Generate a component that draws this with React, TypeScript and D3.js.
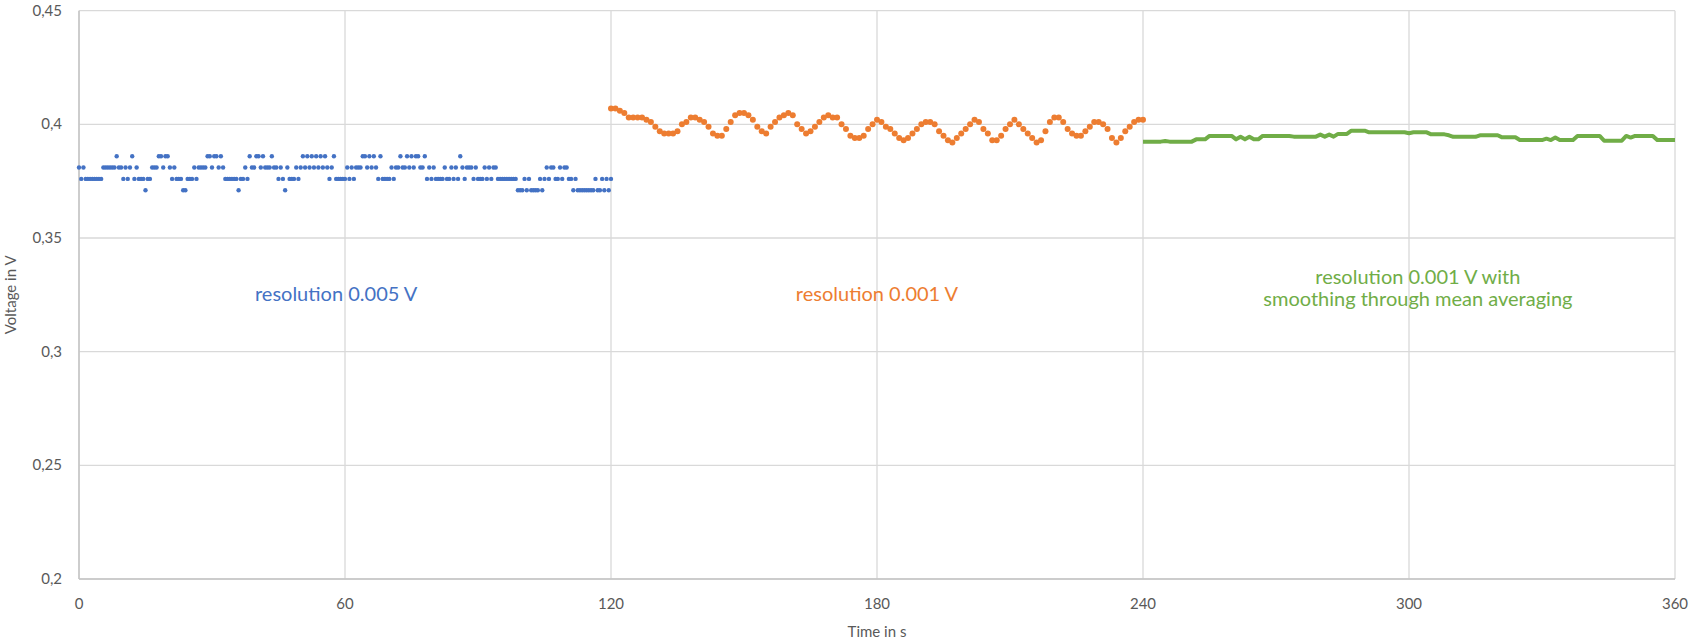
import React from 'react';
import * as d3 from 'd3';

// Blue series: 0.005 V resolution, sampled every 0.5 s from 0 s to 120 s.
// Each digit is an index into blueLevels (read off the picture).
const blueLevels = [0.371, 0.376, 0.381, 0.386];
const blueCodes = (
  '2121111111' + '1222222322' + '1212312111' + '0112223323' + '3212111001' +
  '1121222233' + '2332321111' + '1101121322' + '3323222322' + '1210211121' +
  '2323232323' + '2321231111' + '1212122233' + '2323213111' + '1212232232' +
  '3233223121' + '2111121121' + '2132122212' + '1112121221' + '1111111100' +
  '0101000010' + '1212211212' + '2110100000' + '0001001010' + '1'
).split('').map(Number);
const blueStart = 0;
const blueStep = 0.5;

// Orange series: 0.001 V resolution, one value per second from 120 s to 240 s
const orangeStart = 120;
const orangeValues = [
  0.407, 0.407, 0.406, 0.405, 0.403, 0.403, 0.403, 0.403, 0.402, 0.401,
  0.399, 0.397, 0.396, 0.396, 0.396, 0.397, 0.400, 0.401, 0.403, 0.403,
  0.402, 0.401, 0.399, 0.396, 0.395, 0.395, 0.398, 0.401, 0.404, 0.405,
  0.405, 0.404, 0.402, 0.399, 0.397, 0.396, 0.399, 0.401, 0.403, 0.404,
  0.405, 0.404, 0.400, 0.398, 0.396, 0.397, 0.399, 0.401, 0.403, 0.404,
  0.403, 0.403, 0.400, 0.398, 0.395, 0.394, 0.394, 0.395, 0.398, 0.400,
  0.402, 0.401, 0.399, 0.398, 0.396, 0.394, 0.393, 0.394, 0.396, 0.398,
  0.400, 0.401, 0.401, 0.400, 0.397, 0.395, 0.393, 0.392, 0.394, 0.396,
  0.398, 0.400, 0.402, 0.401, 0.398, 0.396, 0.393, 0.393, 0.395, 0.398,
  0.400, 0.402, 0.400, 0.398, 0.396, 0.394, 0.392, 0.393, 0.397, 0.401,
  0.403, 0.403, 0.401, 0.398, 0.396, 0.395, 0.395, 0.397, 0.399, 0.401,
  0.401, 0.400, 0.398, 0.394, 0.392, 0.394, 0.397, 0.399, 0.401, 0.402,
  0.402,
];

// Green series: smoothed by mean averaging, one value per second from 240 s to 360 s
const greenStart = 240;
const greenValues = [
  0.3924, 0.3924, 0.3924, 0.3924, 0.3924, 0.3927, 0.3924, 0.3924, 0.3924, 0.3924,
  0.3924, 0.3924, 0.3934, 0.3934, 0.3934, 0.3949, 0.3949, 0.3949, 0.3949, 0.3949,
  0.3949, 0.3934, 0.3945, 0.3934, 0.3945, 0.3934, 0.3934, 0.3949, 0.3949, 0.3949,
  0.3949, 0.3949, 0.3949, 0.3949, 0.3946, 0.3946, 0.3946, 0.3946, 0.3946, 0.3946,
  0.3955, 0.3946, 0.3955, 0.3946, 0.3958, 0.3958, 0.3958, 0.3972, 0.3972, 0.3972,
  0.3972, 0.3965, 0.3965, 0.3965, 0.3965, 0.3965, 0.3965, 0.3965, 0.3965, 0.3965,
  0.3961, 0.3965, 0.3965, 0.3965, 0.3965, 0.3956, 0.3956, 0.3956, 0.3956, 0.3952,
  0.3945, 0.3945, 0.3945, 0.3945, 0.3945, 0.3945, 0.3952, 0.3952, 0.3952, 0.3952,
  0.3952, 0.3943, 0.3943, 0.3943, 0.3943, 0.3931, 0.3931, 0.3931, 0.3931, 0.3931,
  0.3931, 0.3937, 0.3931, 0.3942, 0.3931, 0.3931, 0.3931, 0.3931, 0.3949, 0.3949,
  0.3949, 0.3949, 0.3949, 0.3949, 0.3928, 0.3928, 0.3928, 0.3928, 0.3928, 0.3949,
  0.3942, 0.3949, 0.3949, 0.3949, 0.3949, 0.3949, 0.3931, 0.3931, 0.3931, 0.3931,
  0.3931,
];

const xTicks = [0, 60, 120, 180, 240, 300, 360];
const yTicks = [0.2, 0.25, 0.3, 0.35, 0.4, 0.45];
const yTickLabels = ['0,2', '0,25', '0,3', '0,35', '0,4', '0,45'];

const segmentLabels = [
  { lines: ['resolution 0.005 V'], at: 58, color: '#4472C4' },
  { lines: ['resolution 0.001 V'], at: 180, color: '#ED7D31' },
  { lines: ['resolution 0.001 V with', 'smoothing through mean averaging'], at: 302, color: '#70AD47' },
];

const width = 1690;
const height = 644;
const margin = { top: 10.7, right: 15, bottom: 65, left: 79 };
const font = 'Lato, Carlito, Calibri, sans-serif';

export default function App() {
  const x = d3.scaleLinear().domain([0, 360]).range([margin.left, width - margin.right]);
  const y = d3.scaleLinear().domain([0.2, 0.45]).range([height - margin.bottom, margin.top]);

  const bluePoints = blueCodes.map((c, i) => ({ t: blueStart + i * blueStep, v: blueLevels[c] }));
  const orangePoints = orangeValues.map((v, i) => ({ t: orangeStart + i, v }));
  const greenPoints = greenValues.map((v, i) => ({ t: greenStart + i, v }));

  const greenLine = d3.line<{ t: number; v: number }>()
    .x((d) => x(d.t))
    .y((d) => y(d.v));

  const [x0, x1] = x.range();
  const [y0, y1] = y.range();

  return (
    <svg
      width={width}
      height={height}
      style={{ position: 'absolute', left: 0, top: 0, background: '#fff' }}
      fontFamily={font}
    >
      {/* grid */}
      <g stroke="#d9d9d9" strokeWidth={1.3}>
        {yTicks.map((t) => (
          <line key={`gy${t}`} x1={x0} x2={x1} y1={y(t)} y2={y(t)} />
        ))}
        {xTicks.map((t) => (
          <line key={`gx${t}`} x1={x(t)} x2={x(t)} y1={y0} y2={y1} />
        ))}
      </g>
      {/* axis lines */}
      <line x1={x0} x2={x0} y1={y0} y2={y1} stroke="#c4c4c4" strokeWidth={1.5} />
      <line x1={x0} x2={x1} y1={y0} y2={y0} stroke="#c4c4c4" strokeWidth={1.5} />

      {/* tick labels */}
      <g fill="#595959" fontSize={15}>
        {yTicks.map((t, i) => (
          <text key={`ly${t}`} x={x0 - 17} y={y(t) + 5} textAnchor="end">
            {yTickLabels[i]}
          </text>
        ))}
        {xTicks.map((t) => (
          <text key={`lx${t}`} x={x(t)} y={y0 + 30} textAnchor="middle">
            {t}
          </text>
        ))}
      </g>

      {/* axis titles */}
      <text x={x((0 + 360) / 2)} y={height - 7} textAnchor="middle" fill="#595959" fontSize={15}>
        Time in s
      </text>
      <text
        transform={`translate(16, ${(y0 + y1) / 2}) rotate(-90)`}
        textAnchor="middle"
        fill="#595959"
        fontSize={15}
      >
        Voltage in V
      </text>

      {/* series */}
      <g fill="#4472C4">
        {bluePoints.map((d, i) => (
          <circle key={`b${i}`} cx={x(d.t)} cy={y(d.v)} r={2.2} />
        ))}
      </g>
      <g fill="#ED7D31">
        {orangePoints.map((d, i) => (
          <circle key={`o${i}`} cx={x(d.t)} cy={y(d.v)} r={3} />
        ))}
      </g>
      <path d={greenLine(greenPoints) || ''} fill="none" stroke="#70AD47" strokeWidth={4} strokeLinejoin="round" />

      {/* segment labels */}
      {segmentLabels.map((lab) => (
        <text key={lab.lines[0] + lab.at} fill={lab.color} fontSize={20} textAnchor="middle">
          {lab.lines.map((ln, j) => (
            <tspan key={j} x={x(lab.at)} y={(lab.lines.length > 1 ? 284 : 301) + j * 22}>
              {ln}
            </tspan>
          ))}
        </text>
      ))}
    </svg>
  );
}
